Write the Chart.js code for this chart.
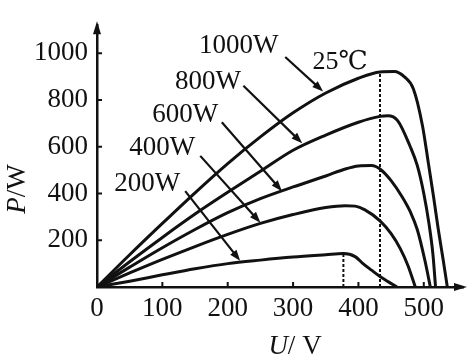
<!DOCTYPE html>
<html>
<head>
<meta charset="utf-8">
<script src="https://cdn.jsdelivr.net/npm/chart.js@4.4.1/dist/chart.umd.min.js"></script>
<style>
  html, body { margin: 0; padding: 0; background: #fff; }
</style>
</head>
<body>
<canvas id="pvChart" width="474" height="363"></canvas>
<script>
// P-U curves of the PV array at 25 C, one per irradiance level
const u1000 = [0, 50, 100, 150, 200, 250, 300, 350, 400, 433, 455, 470, 484, 498, 507, 515, 522, 530, 536];
const p1000 = [0, 138, 272, 403, 528, 642, 745, 830, 893, 920, 922, 900, 848, 690, 530, 385, 250, 110, 0];

const u800 = [0, 50, 100, 150, 200, 250, 300, 350, 400, 433, 445, 460, 479, 490, 500, 508, 514, 518];
const p800 = [0, 108, 212, 312, 405, 495, 585, 650, 705, 730, 733, 712, 602, 520, 400, 270, 140, 0];

const u600 = [0, 50, 100, 150, 200, 250, 300, 350, 380, 400, 420, 433, 450, 467, 480, 490, 502, 510];
const p600 = [0, 85, 168, 246, 318, 378, 428, 475, 505, 518, 520, 505, 455, 385, 318, 246, 110, 0];

const u400 = [0, 50, 100, 150, 200, 250, 300, 350, 380, 395, 410, 433, 450, 464, 476, 487];
const p400 = [0, 60, 118, 173, 225, 272, 310, 340, 348, 346, 330, 283, 228, 164, 90, 0];

const u200 = [0, 50, 100, 150, 200, 250, 300, 350, 377, 395, 407, 420, 433, 446, 459];
const p200 = [0, 25, 52, 78, 100, 115, 128, 138, 143, 130, 100, 72, 45, 22, 0];

// maximum power points marked with dotted drop lines
const mppVoltage = [433, 377];
const mppPower = [920, 143];

const curveLabels = ['1000W', '800W', '600W', '400W', '200W'];
const tempLabel = '25\u2103';

const xTicks = [0, 100, 200, 300, 400, 500];
const yTicks = [200, 400, 600, 800, 1000];

// label anchors and arrows, in data units (U, P)
const labelU = [217, 170, 135, 100, 77];
const labelP = [1033, 877, 738, 594, 439];
const arrowFromU = [288, 224, 191, 158, 135];
const arrowFromP = [984, 861, 705, 561, 410];
const arrowToU = [346, 314, 283, 250, 219];
const arrowToP = [836, 615, 410, 275, 112];

const serif = "'Liberation Serif', 'DejaVu Serif', serif";
const ink = '#111';

function toPoints(us, ps) {
    return us.map((u, i) => ({ x: u, y: ps[i] }));
}

function curve(us, ps) {
    return {
        data: toPoints(us, ps),
        borderColor: ink,
        borderWidth: 3,
        pointRadius: 0,
        fill: false,
        cubicInterpolationMode: 'monotone'
    };
}

function dropLine(i) {
    return {
        data: [{ x: mppVoltage[i], y: 0 }, { x: mppVoltage[i], y: mppPower[i] }],
        borderColor: ink,
        borderWidth: 2,
        borderDash: [3, 2],
        pointRadius: 0,
        fill: false
    };
}

function drawArrow(ctx, x1, y1, x2, y2) {
    const ang = Math.atan2(y2 - y1, x2 - x1);
    const len = 11, half = 4;
    ctx.beginPath();
    ctx.moveTo(x1, y1);
    ctx.lineTo(x2 - Math.cos(ang) * len * 0.8, y2 - Math.sin(ang) * len * 0.8);
    ctx.stroke();
    ctx.beginPath();
    ctx.moveTo(x2, y2);
    ctx.lineTo(x2 - Math.cos(ang) * len + Math.sin(ang) * half, y2 - Math.sin(ang) * len - Math.cos(ang) * half);
    ctx.lineTo(x2 - Math.cos(ang) * len - Math.sin(ang) * half, y2 - Math.sin(ang) * len + Math.cos(ang) * half);
    ctx.closePath();
    ctx.fill();
}

// draws "italic + normal" text centred on (cx, cy)
function mixedText(ctx, italicPart, normalPart, cx, cy, size) {
    ctx.font = 'italic ' + size + 'px ' + serif;
    const w1 = ctx.measureText(italicPart).width;
    ctx.font = size + 'px ' + serif;
    const w2 = ctx.measureText(normalPart).width;
    let x = cx - (w1 + w2) / 2;
    ctx.textAlign = 'left';
    ctx.textBaseline = 'middle';
    ctx.font = 'italic ' + size + 'px ' + serif;
    ctx.fillText(italicPart, x, cy);
    ctx.font = size + 'px ' + serif;
    ctx.fillText(normalPart, x + w1, cy);
}

const decorations = {
    id: 'decorations',
    afterDraw(chart) {
        const { ctx, chartArea, scales: { x, y } } = chart;
        ctx.save();
        ctx.strokeStyle = ink;
        ctx.fillStyle = ink;

        // inward tick marks
        ctx.lineWidth = 2;
        xTicks.slice(1).forEach(v => {
            const px = x.getPixelForValue(v);
            ctx.beginPath();
            ctx.moveTo(px, chartArea.bottom);
            ctx.lineTo(px, chartArea.bottom - 5);
            ctx.stroke();
        });
        yTicks.forEach(v => {
            const py = y.getPixelForValue(v);
            ctx.beginPath();
            ctx.moveTo(chartArea.left, py);
            ctx.lineTo(chartArea.left + 5, py);
            ctx.stroke();
        });

        // axis arrowheads
        const l = chartArea.left, b = chartArea.bottom;
        ctx.beginPath();
        ctx.moveTo(l, chartArea.top - 4);
        ctx.lineTo(l - 4, chartArea.top + 9);
        ctx.lineTo(l + 4, chartArea.top + 9);
        ctx.closePath();
        ctx.fill();
        ctx.beginPath();
        ctx.moveTo(chartArea.right + 4, b);
        ctx.lineTo(chartArea.right - 9, b - 4);
        ctx.lineTo(chartArea.right - 9, b + 4);
        ctx.closePath();
        ctx.fill();

        // curve labels with arrows
        ctx.lineWidth = 2.2;
        curveLabels.forEach((t, i) => {
            drawArrow(ctx,
                x.getPixelForValue(arrowFromU[i]), y.getPixelForValue(arrowFromP[i]),
                x.getPixelForValue(arrowToU[i]), y.getPixelForValue(arrowToP[i]));
        });
        ctx.font = '27px ' + serif;
        ctx.textAlign = 'center';
        ctx.textBaseline = 'middle';
        curveLabels.forEach((t, i) => {
            ctx.fillText(t, x.getPixelForValue(labelU[i]), y.getPixelForValue(labelP[i]));
        });
        ctx.font = '26px ' + serif;
        ctx.fillText(tempLabel, x.getPixelForValue(372), y.getPixelForValue(963));

        // axis titles
        mixedText(ctx, 'U', '/ V', (chartArea.left + chartArea.right) / 2 + 15, chartArea.bottom + 60, 27);
        ctx.save();
        ctx.translate(18, (chartArea.top + chartArea.bottom) / 2 + 33);
        ctx.rotate(-Math.PI / 2);
        mixedText(ctx, 'P', '/W', 0, 0, 27);
        ctx.restore();

        ctx.restore();
    }
};

const ctx = document.getElementById('pvChart').getContext('2d');
const pvChart = new Chart(ctx, {
    type: 'line',
    data: {
        datasets: [
            curve(u1000, p1000),
            curve(u800, p800),
            curve(u600, p600),
            curve(u400, p400),
            curve(u200, p200),
            dropLine(0),
            dropLine(1)
        ]
    },
    options: {
        responsive: false,
        animation: false,
        devicePixelRatio: 1,
        layout: { padding: { top: 13, right: 11, left: 0, bottom: 0 } },
        plugins: { legend: { display: false }, tooltip: { enabled: false } },
        scales: {
            x: {
                type: 'linear',
                min: 0,
                max: 560,
                afterBuildTicks: s => { s.ticks = xTicks.map(v => ({ value: v })); },
                afterFit: s => { s.height = 76; },
                grid: { display: false, drawTicks: false },
                border: { display: true, color: ink, width: 2.5 },
                ticks: {
                    color: ink,
                    font: { family: serif, size: 27 },
                    padding: 6,
                    maxRotation: 0,
                    autoSkip: false,
                    callback: v => String(v)
                }
            },
            y: {
                type: 'linear',
                min: 0,
                max: 1120,
                afterBuildTicks: s => { s.ticks = yTicks.map(v => ({ value: v })); },
                afterFit: s => { s.width = 97; },
                grid: { display: false, drawTicks: false },
                border: { display: true, color: ink, width: 2.5 },
                ticks: {
                    color: ink,
                    font: { family: serif, size: 27 },
                    padding: 9,
                    autoSkip: false,
                    callback: v => String(v)
                }
            }
        }
    },
    plugins: [decorations]
});
</script>
</body>
</html>
